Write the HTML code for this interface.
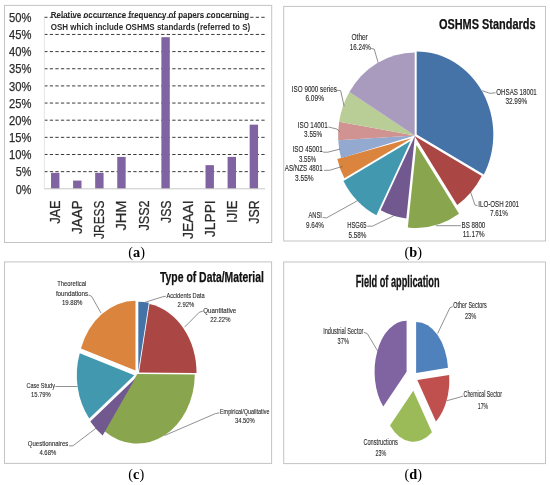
<!DOCTYPE html>
<html><head><meta charset="utf-8"><title>Figure</title>
<style>html,body{margin:0;padding:0;background:#fff}svg{display:block}</style></head>
<body><svg width="550" height="485" viewBox="0 0 550 485">
<rect width="550" height="485" fill="#fff"/>
<rect x="4.5" y="5.4" width="267.2" height="237.1" fill="#fff" stroke="#c4c4c4" stroke-width="1"/>
<line x1="44.2" y1="171.65" x2="265.0" y2="171.65" stroke="#3a3a3a" stroke-width="1" stroke-dasharray="3.3 2.267"/>
<line x1="44.2" y1="154.50" x2="265.0" y2="154.50" stroke="#3a3a3a" stroke-width="1" stroke-dasharray="3.3 2.267"/>
<line x1="44.2" y1="137.35" x2="265.0" y2="137.35" stroke="#3a3a3a" stroke-width="1" stroke-dasharray="3.3 2.267"/>
<line x1="44.2" y1="120.20" x2="265.0" y2="120.20" stroke="#3a3a3a" stroke-width="1" stroke-dasharray="3.3 2.267"/>
<line x1="44.2" y1="103.05" x2="265.0" y2="103.05" stroke="#3a3a3a" stroke-width="1" stroke-dasharray="3.3 2.267"/>
<line x1="44.2" y1="85.90" x2="265.0" y2="85.90" stroke="#3a3a3a" stroke-width="1" stroke-dasharray="3.3 2.267"/>
<line x1="44.2" y1="68.75" x2="265.0" y2="68.75" stroke="#3a3a3a" stroke-width="1" stroke-dasharray="3.3 2.267"/>
<line x1="44.2" y1="51.60" x2="265.0" y2="51.60" stroke="#3a3a3a" stroke-width="1" stroke-dasharray="3.3 2.267"/>
<line x1="44.2" y1="34.45" x2="265.0" y2="34.45" stroke="#3a3a3a" stroke-width="1" stroke-dasharray="3.3 2.267"/>
<line x1="44.2" y1="17.30" x2="265.0" y2="17.30" stroke="#3a3a3a" stroke-width="1" stroke-dasharray="3.3 2.267"/>
<rect x="51.03" y="172.85" width="8.4" height="15.95" fill="#8064A2"/>
<rect x="73.11" y="180.57" width="8.4" height="8.23" fill="#8064A2"/>
<rect x="95.17" y="172.85" width="8.4" height="15.95" fill="#8064A2"/>
<rect x="117.25" y="156.90" width="8.4" height="31.90" fill="#8064A2"/>
<rect x="161.38" y="37.19" width="8.4" height="151.61" fill="#8064A2"/>
<rect x="205.52" y="165.13" width="8.4" height="23.67" fill="#8064A2"/>
<rect x="227.59" y="156.90" width="8.4" height="31.90" fill="#8064A2"/>
<rect x="249.66" y="124.66" width="8.4" height="64.14" fill="#8064A2"/>
<line x1="44.3" y1="17.30" x2="44.3" y2="188.8" stroke="#e4e4e4" stroke-width="1"/>
<line x1="44.3" y1="188.8" x2="265.0" y2="188.8" stroke="#c8c8c8" stroke-width="1"/>
<text x="15.80" y="193.50" font-size="13.3" font-weight="normal" fill="#2a2a2a" stroke="#2a2a2a" stroke-width="0.25" textLength="15.60" lengthAdjust="spacingAndGlyphs" font-family='"Liberation Sans", sans-serif'>0%</text>
<text x="15.80" y="176.35" font-size="13.3" font-weight="normal" fill="#2a2a2a" stroke="#2a2a2a" stroke-width="0.25" textLength="15.60" lengthAdjust="spacingAndGlyphs" font-family='"Liberation Sans", sans-serif'>5%</text>
<text x="9.00" y="159.20" font-size="13.3" font-weight="normal" fill="#2a2a2a" stroke="#2a2a2a" stroke-width="0.25" textLength="22.40" lengthAdjust="spacingAndGlyphs" font-family='"Liberation Sans", sans-serif'>10%</text>
<text x="9.00" y="142.05" font-size="13.3" font-weight="normal" fill="#2a2a2a" stroke="#2a2a2a" stroke-width="0.25" textLength="22.40" lengthAdjust="spacingAndGlyphs" font-family='"Liberation Sans", sans-serif'>15%</text>
<text x="9.00" y="124.90" font-size="13.3" font-weight="normal" fill="#2a2a2a" stroke="#2a2a2a" stroke-width="0.25" textLength="22.40" lengthAdjust="spacingAndGlyphs" font-family='"Liberation Sans", sans-serif'>20%</text>
<text x="9.00" y="107.75" font-size="13.3" font-weight="normal" fill="#2a2a2a" stroke="#2a2a2a" stroke-width="0.25" textLength="22.40" lengthAdjust="spacingAndGlyphs" font-family='"Liberation Sans", sans-serif'>25%</text>
<text x="9.00" y="90.60" font-size="13.3" font-weight="normal" fill="#2a2a2a" stroke="#2a2a2a" stroke-width="0.25" textLength="22.40" lengthAdjust="spacingAndGlyphs" font-family='"Liberation Sans", sans-serif'>30%</text>
<text x="9.00" y="73.45" font-size="13.3" font-weight="normal" fill="#2a2a2a" stroke="#2a2a2a" stroke-width="0.25" textLength="22.40" lengthAdjust="spacingAndGlyphs" font-family='"Liberation Sans", sans-serif'>35%</text>
<text x="9.00" y="56.30" font-size="13.3" font-weight="normal" fill="#2a2a2a" stroke="#2a2a2a" stroke-width="0.25" textLength="22.40" lengthAdjust="spacingAndGlyphs" font-family='"Liberation Sans", sans-serif'>40%</text>
<text x="9.00" y="39.15" font-size="13.3" font-weight="normal" fill="#2a2a2a" stroke="#2a2a2a" stroke-width="0.25" textLength="22.40" lengthAdjust="spacingAndGlyphs" font-family='"Liberation Sans", sans-serif'>45%</text>
<text x="9.00" y="22.00" font-size="13.3" font-weight="normal" fill="#2a2a2a" stroke="#2a2a2a" stroke-width="0.25" textLength="22.40" lengthAdjust="spacingAndGlyphs" font-family='"Liberation Sans", sans-serif'>50%</text>
<text transform="translate(60.23,223.80) rotate(-90)" font-size="14.4" fill="#2a2a2a" stroke="#2a2a2a" stroke-width="0.25" textLength="23.40" lengthAdjust="spacingAndGlyphs" font-family='"Liberation Sans", sans-serif'>JAE</text>
<text transform="translate(82.30,234.00) rotate(-90)" font-size="14.4" fill="#2a2a2a" stroke="#2a2a2a" stroke-width="0.25" textLength="33.60" lengthAdjust="spacingAndGlyphs" font-family='"Liberation Sans", sans-serif'>JAAP</text>
<text transform="translate(104.37,239.00) rotate(-90)" font-size="14.4" fill="#2a2a2a" stroke="#2a2a2a" stroke-width="0.25" textLength="38.60" lengthAdjust="spacingAndGlyphs" font-family='"Liberation Sans", sans-serif'>JRESS</text>
<text transform="translate(126.44,230.60) rotate(-90)" font-size="14.4" fill="#2a2a2a" stroke="#2a2a2a" stroke-width="0.25" textLength="30.20" lengthAdjust="spacingAndGlyphs" font-family='"Liberation Sans", sans-serif'>JHM</text>
<text transform="translate(148.52,230.60) rotate(-90)" font-size="14.4" fill="#2a2a2a" stroke="#2a2a2a" stroke-width="0.25" textLength="30.20" lengthAdjust="spacingAndGlyphs" font-family='"Liberation Sans", sans-serif'>JSS2</text>
<text transform="translate(170.59,223.00) rotate(-90)" font-size="14.4" fill="#2a2a2a" stroke="#2a2a2a" stroke-width="0.25" textLength="22.60" lengthAdjust="spacingAndGlyphs" font-family='"Liberation Sans", sans-serif'>JSS</text>
<text transform="translate(192.66,239.00) rotate(-90)" font-size="14.4" fill="#2a2a2a" stroke="#2a2a2a" stroke-width="0.25" textLength="38.60" lengthAdjust="spacingAndGlyphs" font-family='"Liberation Sans", sans-serif'>JEAAI</text>
<text transform="translate(214.72,237.00) rotate(-90)" font-size="14.4" fill="#2a2a2a" stroke="#2a2a2a" stroke-width="0.25" textLength="36.60" lengthAdjust="spacingAndGlyphs" font-family='"Liberation Sans", sans-serif'>JLPPI</text>
<text transform="translate(236.79,223.00) rotate(-90)" font-size="14.4" fill="#2a2a2a" stroke="#2a2a2a" stroke-width="0.25" textLength="22.60" lengthAdjust="spacingAndGlyphs" font-family='"Liberation Sans", sans-serif'>IJIE</text>
<text transform="translate(258.87,223.80) rotate(-90)" font-size="14.4" fill="#2a2a2a" stroke="#2a2a2a" stroke-width="0.25" textLength="23.40" lengthAdjust="spacingAndGlyphs" font-family='"Liberation Sans", sans-serif'>JSR</text>
<text x="50.80" y="18.10" font-size="8.5" font-weight="bold" fill="#2a2a2a" stroke="#2a2a2a" stroke-width="0" textLength="198.40" lengthAdjust="spacingAndGlyphs" font-family='"Liberation Sans", sans-serif'>Relative occurrence frequency of papers concerning</text>
<text x="50.80" y="29.80" font-size="8.5" font-weight="bold" fill="#2a2a2a" stroke="#2a2a2a" stroke-width="0" textLength="199.40" lengthAdjust="spacingAndGlyphs" font-family='"Liberation Sans", sans-serif'>OSH which include OSHMS standards (referred to S)</text>
<rect x="283.7" y="6.4" width="261.8" height="234.6" fill="#fff" stroke="#c4c4c4" stroke-width="1"/>
<path d="M416.70 134.60L416.70 51.60A76.60 83.00 0 0 1 483.83 174.59Z" fill="#4572A7"/>
<path d="M414.60 136.10L481.73 176.09A76.60 83.00 0 0 1 457.21 205.07Z" fill="#AA4643"/>
<path d="M416.40 144.90L459.01 213.87A76.60 83.00 0 0 1 407.82 227.38Z" fill="#89A54E"/>
<path d="M414.90 136.00L406.32 218.48A76.60 83.00 0 0 1 380.69 210.27Z" fill="#71588F"/>
<path d="M410.60 141.00L376.39 215.27A76.60 83.00 0 0 1 343.45 180.94Z" fill="#4198AF"/>
<path d="M411.50 138.30L344.35 178.24A76.60 83.00 0 0 1 337.29 158.88Z" fill="#DB843D"/>
<path d="M414.70 135.50L341.06 158.35A76.60 83.00 0 0 1 338.22 140.13Z" fill="#93A9CF"/>
<path d="M414.70 135.50L338.22 140.13A76.60 83.00 0 0 1 339.17 121.68Z" fill="#D19392"/>
<path d="M414.70 135.50L339.17 121.68A76.60 83.00 0 0 1 349.40 92.11Z" fill="#B9CD96"/>
<path d="M414.70 135.50L349.40 92.11A76.60 83.00 0 0 1 414.70 52.50Z" fill="#A99BBD"/>
<text x="438.90" y="28.50" font-size="13.8" font-weight="bold" fill="#111" stroke="#111" stroke-width="0.25" textLength="96.60" lengthAdjust="spacingAndGlyphs" font-family='"Liberation Sans", sans-serif'>OSHMS Standards</text>
<text x="351.50" y="40.40" font-size="8.3" font-weight="normal" fill="#2a2a2a" stroke="#2a2a2a" stroke-width="0.12" textLength="16.30" lengthAdjust="spacingAndGlyphs" font-family='"Liberation Sans", sans-serif'>Other</text>
<text x="349.70" y="49.50" font-size="8.3" font-weight="normal" fill="#2a2a2a" stroke="#2a2a2a" stroke-width="0.12" textLength="21.20" lengthAdjust="spacingAndGlyphs" font-family='"Liberation Sans", sans-serif'>16.24%</text>
<polyline points="370.9,48.5 374.2,49.0 378.1,62.6" fill="none" stroke="#555" stroke-width="0.65"/>
<text x="291.80" y="92.00" font-size="8.3" font-weight="normal" fill="#2a2a2a" stroke="#2a2a2a" stroke-width="0.12" textLength="45.10" lengthAdjust="spacingAndGlyphs" font-family='"Liberation Sans", sans-serif'>ISO 9000 series</text>
<text x="305.40" y="101.00" font-size="8.3" font-weight="normal" fill="#2a2a2a" stroke="#2a2a2a" stroke-width="0.12" textLength="18.60" lengthAdjust="spacingAndGlyphs" font-family='"Liberation Sans", sans-serif'>6.09%</text>
<polyline points="336.9,90.2 340.7,90.7 344.1,106.2" fill="none" stroke="#555" stroke-width="0.65"/>
<text x="297.70" y="128.30" font-size="8.3" font-weight="normal" fill="#2a2a2a" stroke="#2a2a2a" stroke-width="0.12" textLength="30.10" lengthAdjust="spacingAndGlyphs" font-family='"Liberation Sans", sans-serif'>ISO 14001</text>
<text x="304.10" y="137.40" font-size="8.3" font-weight="normal" fill="#2a2a2a" stroke="#2a2a2a" stroke-width="0.12" textLength="18.10" lengthAdjust="spacingAndGlyphs" font-family='"Liberation Sans", sans-serif'>3.55%</text>
<polyline points="328.4,127.0 336.9,129.0 339.4,131.6" fill="none" stroke="#555" stroke-width="0.65"/>
<text x="292.50" y="151.80" font-size="8.3" font-weight="normal" fill="#2a2a2a" stroke="#2a2a2a" stroke-width="0.12" textLength="30.20" lengthAdjust="spacingAndGlyphs" font-family='"Liberation Sans", sans-serif'>ISO 45001</text>
<text x="299.00" y="161.50" font-size="8.3" font-weight="normal" fill="#2a2a2a" stroke="#2a2a2a" stroke-width="0.12" textLength="17.20" lengthAdjust="spacingAndGlyphs" font-family='"Liberation Sans", sans-serif'>3.55%</text>
<polyline points="323.2,152.2 327.8,152.2 340.0,149.1" fill="none" stroke="#555" stroke-width="0.65"/>
<text x="284.80" y="170.90" font-size="8.3" font-weight="normal" fill="#2a2a2a" stroke="#2a2a2a" stroke-width="0.12" textLength="37.90" lengthAdjust="spacingAndGlyphs" font-family='"Liberation Sans", sans-serif'>AS/NZS 4801</text>
<text x="295.10" y="180.70" font-size="8.3" font-weight="normal" fill="#2a2a2a" stroke="#2a2a2a" stroke-width="0.12" textLength="18.60" lengthAdjust="spacingAndGlyphs" font-family='"Liberation Sans", sans-serif'>3.55%</text>
<polyline points="324.0,170.3 329.6,170.3 342.5,166.4" fill="none" stroke="#555" stroke-width="0.65"/>
<text x="308.50" y="218.40" font-size="8.3" font-weight="normal" fill="#2a2a2a" stroke="#2a2a2a" stroke-width="0.12" textLength="13.40" lengthAdjust="spacingAndGlyphs" font-family='"Liberation Sans", sans-serif'>ANSI</text>
<text x="305.90" y="227.50" font-size="8.3" font-weight="normal" fill="#2a2a2a" stroke="#2a2a2a" stroke-width="0.12" textLength="18.10" lengthAdjust="spacingAndGlyphs" font-family='"Liberation Sans", sans-serif'>9.64%</text>
<polyline points="322.7,217.4 326.5,217.9 357.5,200.7" fill="none" stroke="#555" stroke-width="0.65"/>
<text x="347.20" y="228.20" font-size="8.3" font-weight="normal" fill="#2a2a2a" stroke="#2a2a2a" stroke-width="0.12" textLength="19.30" lengthAdjust="spacingAndGlyphs" font-family='"Liberation Sans", sans-serif'>HSG65</text>
<text x="348.50" y="237.70" font-size="8.3" font-weight="normal" fill="#2a2a2a" stroke="#2a2a2a" stroke-width="0.12" textLength="18.00" lengthAdjust="spacingAndGlyphs" font-family='"Liberation Sans", sans-serif'>5.58%</text>
<polyline points="367.3,226.2 372.4,226.2 393.6,215.9" fill="none" stroke="#555" stroke-width="0.65"/>
<text x="478.30" y="206.80" font-size="8.3" font-weight="normal" fill="#2a2a2a" stroke="#2a2a2a" stroke-width="0.12" textLength="40.70" lengthAdjust="spacingAndGlyphs" font-family='"Liberation Sans", sans-serif'>ILO-OSH 2001</text>
<text x="489.90" y="216.40" font-size="8.3" font-weight="normal" fill="#2a2a2a" stroke="#2a2a2a" stroke-width="0.12" textLength="18.00" lengthAdjust="spacingAndGlyphs" font-family='"Liberation Sans", sans-serif'>7.61%</text>
<polyline points="477.5,205.6 475.0,205.0 470.6,192.2" fill="none" stroke="#555" stroke-width="0.65"/>
<text x="461.50" y="228.20" font-size="8.3" font-weight="normal" fill="#2a2a2a" stroke="#2a2a2a" stroke-width="0.12" textLength="23.80" lengthAdjust="spacingAndGlyphs" font-family='"Liberation Sans", sans-serif'>BS 8800</text>
<text x="462.80" y="237.00" font-size="8.3" font-weight="normal" fill="#2a2a2a" stroke="#2a2a2a" stroke-width="0.12" textLength="21.90" lengthAdjust="spacingAndGlyphs" font-family='"Liberation Sans", sans-serif'>11.17%</text>
<polyline points="460.8,225.7 435.8,225.7" fill="none" stroke="#555" stroke-width="0.65"/>
<text x="496.30" y="94.60" font-size="8.3" font-weight="normal" fill="#2a2a2a" stroke="#2a2a2a" stroke-width="0.12" textLength="40.50" lengthAdjust="spacingAndGlyphs" font-family='"Liberation Sans", sans-serif'>OHSAS 18001</text>
<text x="505.40" y="103.60" font-size="8.3" font-weight="normal" fill="#2a2a2a" stroke="#2a2a2a" stroke-width="0.12" textLength="21.90" lengthAdjust="spacingAndGlyphs" font-family='"Liberation Sans", sans-serif'>32.99%</text>
<polyline points="495.6,92.8 489.9,93.3 482.2,90.7" fill="none" stroke="#555" stroke-width="0.65"/>
<rect x="4.5" y="261.9" width="267.1" height="201.5" fill="#fff" stroke="#c4c4c4" stroke-width="1"/>
<path d="M138.30 371.30L138.30 301.70A57.50 69.60 0 0 1 148.79 302.87Z" fill="#4572A7"/>
<path d="M139.00 372.40L149.49 303.97A57.50 69.60 0 0 1 196.50 373.02Z" fill="#AA4643"/>
<path d="M137.30 374.00L194.80 374.62A57.50 69.60 0 0 1 104.55 431.20Z" fill="#89A54E"/>
<path d="M135.40 378.20L102.65 435.40A57.50 69.60 0 0 1 90.35 421.46Z" fill="#71588F"/>
<path d="M134.30 375.20L89.25 418.46A57.50 69.60 0 0 1 79.75 353.20Z" fill="#4198AF"/>
<path d="M135.50 370.40L80.95 348.40A57.50 69.60 0 0 1 135.50 300.80Z" fill="#DB843D"/>
<text x="160.00" y="281.60" font-size="13.8" font-weight="bold" fill="#111" stroke="#111" stroke-width="0.25" textLength="103.90" lengthAdjust="spacingAndGlyphs" font-family='"Liberation Sans", sans-serif'>Type of Data/Material</text>
<text x="57.20" y="286.40" font-size="7.9" font-weight="normal" fill="#2a2a2a" stroke="#2a2a2a" stroke-width="0.12" textLength="29.10" lengthAdjust="spacingAndGlyphs" font-family='"Liberation Sans", sans-serif'>Theoretical</text>
<text x="55.90" y="296.00" font-size="7.9" font-weight="normal" fill="#2a2a2a" stroke="#2a2a2a" stroke-width="0.12" textLength="32.20" lengthAdjust="spacingAndGlyphs" font-family='"Liberation Sans", sans-serif'>foundations</text>
<text x="61.90" y="305.20" font-size="7.9" font-weight="normal" fill="#2a2a2a" stroke="#2a2a2a" stroke-width="0.12" textLength="20.60" lengthAdjust="spacingAndGlyphs" font-family='"Liberation Sans", sans-serif'>19.88%</text>
<polyline points="88.4,295.0 91.5,296.2 101.0,313.0" fill="none" stroke="#555" stroke-width="0.65"/>
<text x="166.40" y="297.50" font-size="7.9" font-weight="normal" fill="#2a2a2a" stroke="#2a2a2a" stroke-width="0.12" textLength="38.20" lengthAdjust="spacingAndGlyphs" font-family='"Liberation Sans", sans-serif'>Accidents Data</text>
<text x="177.50" y="306.50" font-size="7.9" font-weight="normal" fill="#2a2a2a" stroke="#2a2a2a" stroke-width="0.12" textLength="16.80" lengthAdjust="spacingAndGlyphs" font-family='"Liberation Sans", sans-serif'>2.92%</text>
<polyline points="165.9,296.2 162.6,296.8 145.3,302.2" fill="none" stroke="#555" stroke-width="0.65"/>
<text x="203.30" y="312.70" font-size="7.9" font-weight="normal" fill="#2a2a2a" stroke="#2a2a2a" stroke-width="0.12" textLength="33.00" lengthAdjust="spacingAndGlyphs" font-family='"Liberation Sans", sans-serif'>Quantitative</text>
<text x="210.30" y="321.70" font-size="7.9" font-weight="normal" fill="#2a2a2a" stroke="#2a2a2a" stroke-width="0.12" textLength="20.10" lengthAdjust="spacingAndGlyphs" font-family='"Liberation Sans", sans-serif'>22.22%</text>
<polyline points="202.8,311.2 199.4,312.2 184.5,327.2" fill="none" stroke="#555" stroke-width="0.65"/>
<text x="26.50" y="387.60" font-size="7.9" font-weight="normal" fill="#2a2a2a" stroke="#2a2a2a" stroke-width="0.12" textLength="28.40" lengthAdjust="spacingAndGlyphs" font-family='"Liberation Sans", sans-serif'>Case Study</text>
<text x="30.90" y="396.60" font-size="7.9" font-weight="normal" fill="#2a2a2a" stroke="#2a2a2a" stroke-width="0.12" textLength="19.90" lengthAdjust="spacingAndGlyphs" font-family='"Liberation Sans", sans-serif'>15.79%</text>
<polyline points="55.4,386.5 77.3,386.5" fill="none" stroke="#555" stroke-width="0.65"/>
<text x="27.80" y="446.30" font-size="7.9" font-weight="normal" fill="#2a2a2a" stroke="#2a2a2a" stroke-width="0.12" textLength="40.50" lengthAdjust="spacingAndGlyphs" font-family='"Liberation Sans", sans-serif'>Questionnaires</text>
<text x="39.40" y="455.30" font-size="7.9" font-weight="normal" fill="#2a2a2a" stroke="#2a2a2a" stroke-width="0.12" textLength="16.80" lengthAdjust="spacingAndGlyphs" font-family='"Liberation Sans", sans-serif'>4.68%</text>
<polyline points="69.1,445.8 72.9,445.8 95.9,428.3" fill="none" stroke="#555" stroke-width="0.65"/>
<text x="220.00" y="414.10" font-size="7.9" font-weight="normal" fill="#2a2a2a" stroke="#2a2a2a" stroke-width="0.12" textLength="49.50" lengthAdjust="spacingAndGlyphs" font-family='"Liberation Sans", sans-serif'>Empirical/Qualitative</text>
<text x="235.00" y="423.10" font-size="7.9" font-weight="normal" fill="#2a2a2a" stroke="#2a2a2a" stroke-width="0.12" textLength="19.80" lengthAdjust="spacingAndGlyphs" font-family='"Liberation Sans", sans-serif'>34.50%</text>
<polyline points="219.5,412.8 215.4,413.6 164.6,435.5" fill="none" stroke="#555" stroke-width="0.65"/>
<rect x="283.7" y="262.0" width="261.8" height="201.60000000000002" fill="#fff" stroke="#c4c4c4" stroke-width="1"/>
<path d="M416.15 372.90L416.15 321.90A32.00 51.00 0 0 1 447.99 367.78Z" fill="#4F81BD"/>
<path d="M417.30 380.00L449.14 374.88A32.00 51.00 0 0 1 435.95 421.45Z" fill="#C0504D"/>
<path d="M413.30 390.70L431.95 432.15A32.00 51.00 0 0 1 389.97 425.61Z" fill="#9BBB59"/>
<path d="M406.60 371.70L383.27 406.61A32.00 51.00 0 0 1 406.60 320.70Z" fill="#8064A2"/>
<text x="355.70" y="286.60" font-size="16.3" font-weight="bold" fill="#111" stroke="#111" stroke-width="0.3" textLength="83.90" lengthAdjust="spacingAndGlyphs" font-family='"Liberation Sans", sans-serif'>Field of application</text>
<text x="323.20" y="333.60" font-size="9.4" font-weight="normal" fill="#2a2a2a" stroke="#2a2a2a" stroke-width="0.12" textLength="40.20" lengthAdjust="spacingAndGlyphs" font-family='"Liberation Sans", sans-serif'>Industrial Sector</text>
<text x="337.60" y="344.40" font-size="9.4" font-weight="normal" fill="#2a2a2a" stroke="#2a2a2a" stroke-width="0.12" textLength="11.40" lengthAdjust="spacingAndGlyphs" font-family='"Liberation Sans", sans-serif'>37%</text>
<polyline points="363.9,332.3 367.3,333.6 377.6,350.9" fill="none" stroke="#555" stroke-width="0.65"/>
<text x="453.30" y="307.80" font-size="9.4" font-weight="normal" fill="#2a2a2a" stroke="#2a2a2a" stroke-width="0.12" textLength="33.50" lengthAdjust="spacingAndGlyphs" font-family='"Liberation Sans", sans-serif'>Other Sectors</text>
<text x="464.90" y="319.20" font-size="9.4" font-weight="normal" fill="#2a2a2a" stroke="#2a2a2a" stroke-width="0.12" textLength="11.30" lengthAdjust="spacingAndGlyphs" font-family='"Liberation Sans", sans-serif'>23%</text>
<polyline points="452.8,306.5 449.9,307.8 437.6,333.6" fill="none" stroke="#555" stroke-width="0.65"/>
<text x="363.40" y="445.00" font-size="9.4" font-weight="normal" fill="#2a2a2a" stroke="#2a2a2a" stroke-width="0.12" textLength="34.50" lengthAdjust="spacingAndGlyphs" font-family='"Liberation Sans", sans-serif'>Constructions</text>
<text x="375.50" y="455.90" font-size="9.4" font-weight="normal" fill="#2a2a2a" stroke="#2a2a2a" stroke-width="0.12" textLength="10.80" lengthAdjust="spacingAndGlyphs" font-family='"Liberation Sans", sans-serif'>23%</text>
<text x="463.60" y="397.40" font-size="9.4" font-weight="normal" fill="#2a2a2a" stroke="#2a2a2a" stroke-width="0.12" textLength="38.40" lengthAdjust="spacingAndGlyphs" font-family='"Liberation Sans", sans-serif'>Chemical Sector</text>
<text x="477.80" y="408.70" font-size="9.4" font-weight="normal" fill="#2a2a2a" stroke="#2a2a2a" stroke-width="0.12" textLength="10.30" lengthAdjust="spacingAndGlyphs" font-family='"Liberation Sans", sans-serif'>17%</text>
<polyline points="463.1,396.1 459.0,397.4 446.9,400.7" fill="none" stroke="#555" stroke-width="0.65"/>
<text x="136.6" y="257.3" text-anchor="middle" font-size="14.3" fill="#000" font-family='"Liberation Serif", serif'>(<tspan font-weight="bold">a</tspan>)</text>
<text x="413.2" y="257.3" text-anchor="middle" font-size="14.3" fill="#000" font-family='"Liberation Serif", serif'>(<tspan font-weight="bold">b</tspan>)</text>
<text x="136.3" y="479.4" text-anchor="middle" font-size="14.3" fill="#000" font-family='"Liberation Serif", serif'>(<tspan font-weight="bold">c</tspan>)</text>
<text x="413.2" y="479.4" text-anchor="middle" font-size="14.3" fill="#000" font-family='"Liberation Serif", serif'>(<tspan font-weight="bold">d</tspan>)</text>
</svg></body></html>
